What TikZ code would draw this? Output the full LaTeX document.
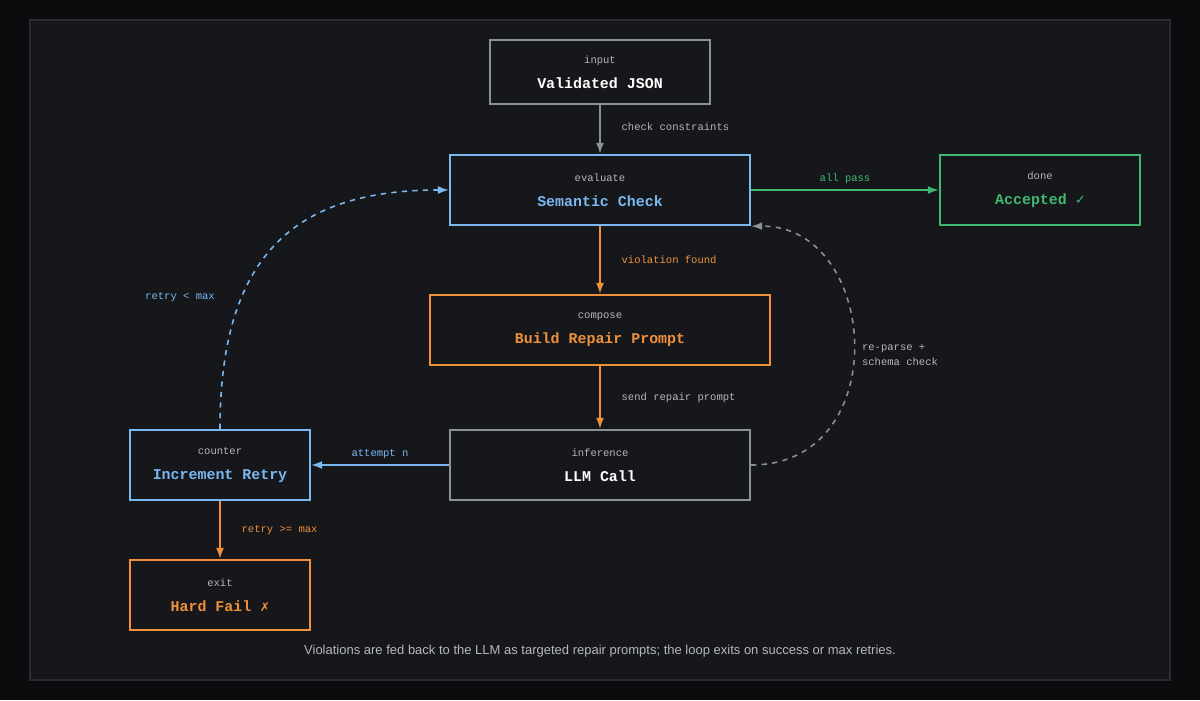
\documentclass[tikz,border=0pt]{standalone}
\usepackage{fontspec}
\setmainfont{Liberation Sans}
\newfontfamily\monofont{Liberation Mono}
\newfontfamily\markfont{DejaVu Sans Mono}
\usetikzlibrary{arrows.meta}
\definecolor{bgout}{HTML}{0B0C0E}
\definecolor{bgpanel}{HTML}{16171B}
\definecolor{panelline}{HTML}{2A2B30}
\definecolor{cgray}{HTML}{8B8F96}
\definecolor{cblue}{HTML}{79B8F0}
\definecolor{cgreen}{HTML}{3FB970}
\definecolor{corange}{HTML}{F0913A}
\definecolor{ctext}{HTML}{B4B7BD}
\tikzset{%
  stage/.style   = {draw, rectangle, line width=1.4pt, fill=bgpanel,%
                    align=center, font=\monofont\fontsize{8.5}{14}\selectfont\bfseries},%
  link/.style    = {-{Latex[length=2.2mm,width=1.6mm]}, line width=0.9pt},%
  loop/.style    = {link, dashed},%
  tag/.style     = {font=\monofont\fontsize{6}{8}\selectfont}%
}
\newcommand{\kind}[1]{{\fontsize{6}{8}\selectfont\mdseries\color{ctext}#1}\\}
\begin{document}
\begin{tikzpicture}[x=0.02cm,y=-0.02cm]
  \fill[bgout] (0,0) rectangle (1200,700);
  \draw[panelline,fill=bgpanel,line width=1pt] (30,20) rectangle (1170,680);
  % boxes
  \node[stage,draw=cgray,text=white,minimum width=4.4cm,minimum height=1.28cm] (input) at (600,72) {\kind{input}Validated JSON};
  \node[stage,draw=cblue,text=cblue,minimum width=6cm,minimum height=1.4cm] (check) at (600,190) {\kind{evaluate}Semantic Check};
  \node[stage,draw=cgreen,text=cgreen,minimum width=4cm,minimum height=1.4cm] (done) at (1040,190) {\kind{done}Accepted {\markfont\char"2713}};
  \node[stage,draw=corange,text=corange,minimum width=6.8cm,minimum height=1.4cm] (repair) at (600,330) {\kind{compose}Build Repair Prompt};
  \node[stage,draw=cgray,text=white,minimum width=6cm,minimum height=1.4cm] (llm) at (600,465) {\kind{inference}LLM Call};
  \node[stage,draw=cblue,text=cblue,minimum width=3.6cm,minimum height=1.4cm] (retry) at (220,465) {\kind{counter}Increment Retry};
  \node[stage,draw=corange,text=corange,minimum width=3.6cm,minimum height=1.4cm] (fail) at (220,595) {\kind{exit}Hard Fail {\markfont\char"2717}};
  % connectors
  \draw[link,cgray] (input) -- (check) node[tag,ctext,pos=0.45,right=0.3cm] {check constraints};
  \draw[link,cgreen] (check) -- (done) node[tag,midway,above] {all pass};
  \draw[link,corange] (check) -- (repair) node[tag,midway,right=0.3cm] {violation found};
  \draw[link,corange] (repair) -- (llm) node[tag,ctext,midway,right=0.3cm] {send repair prompt};
  \draw[link,cblue] (llm) -- (retry) node[tag,midway,above] {attempt n};
  \draw[link,corange] (retry) -- (fail) node[tag,midway,right=0.3cm] {retry >= max};
  \draw[loop,cblue] (retry.north) .. controls (220,250) and (300,190) .. (check.west);
  \node[tag,cblue] (lretry) at (180,297) {retry < max};
  \draw[loop,cgray] (llm.east) .. controls (895,465) and (880,225) .. (check.south east);
  \node[tag,ctext,align=left] (lparse) at (900,355) {re-parse +\\schema check};
  \node[font=\fontsize{7.4}{9}\selectfont,ctext] (caption) at (600,651) {Violations are fed back to the LLM as targeted repair prompts; the loop exits on success or max retries.};
\end{tikzpicture}
\end{document}
